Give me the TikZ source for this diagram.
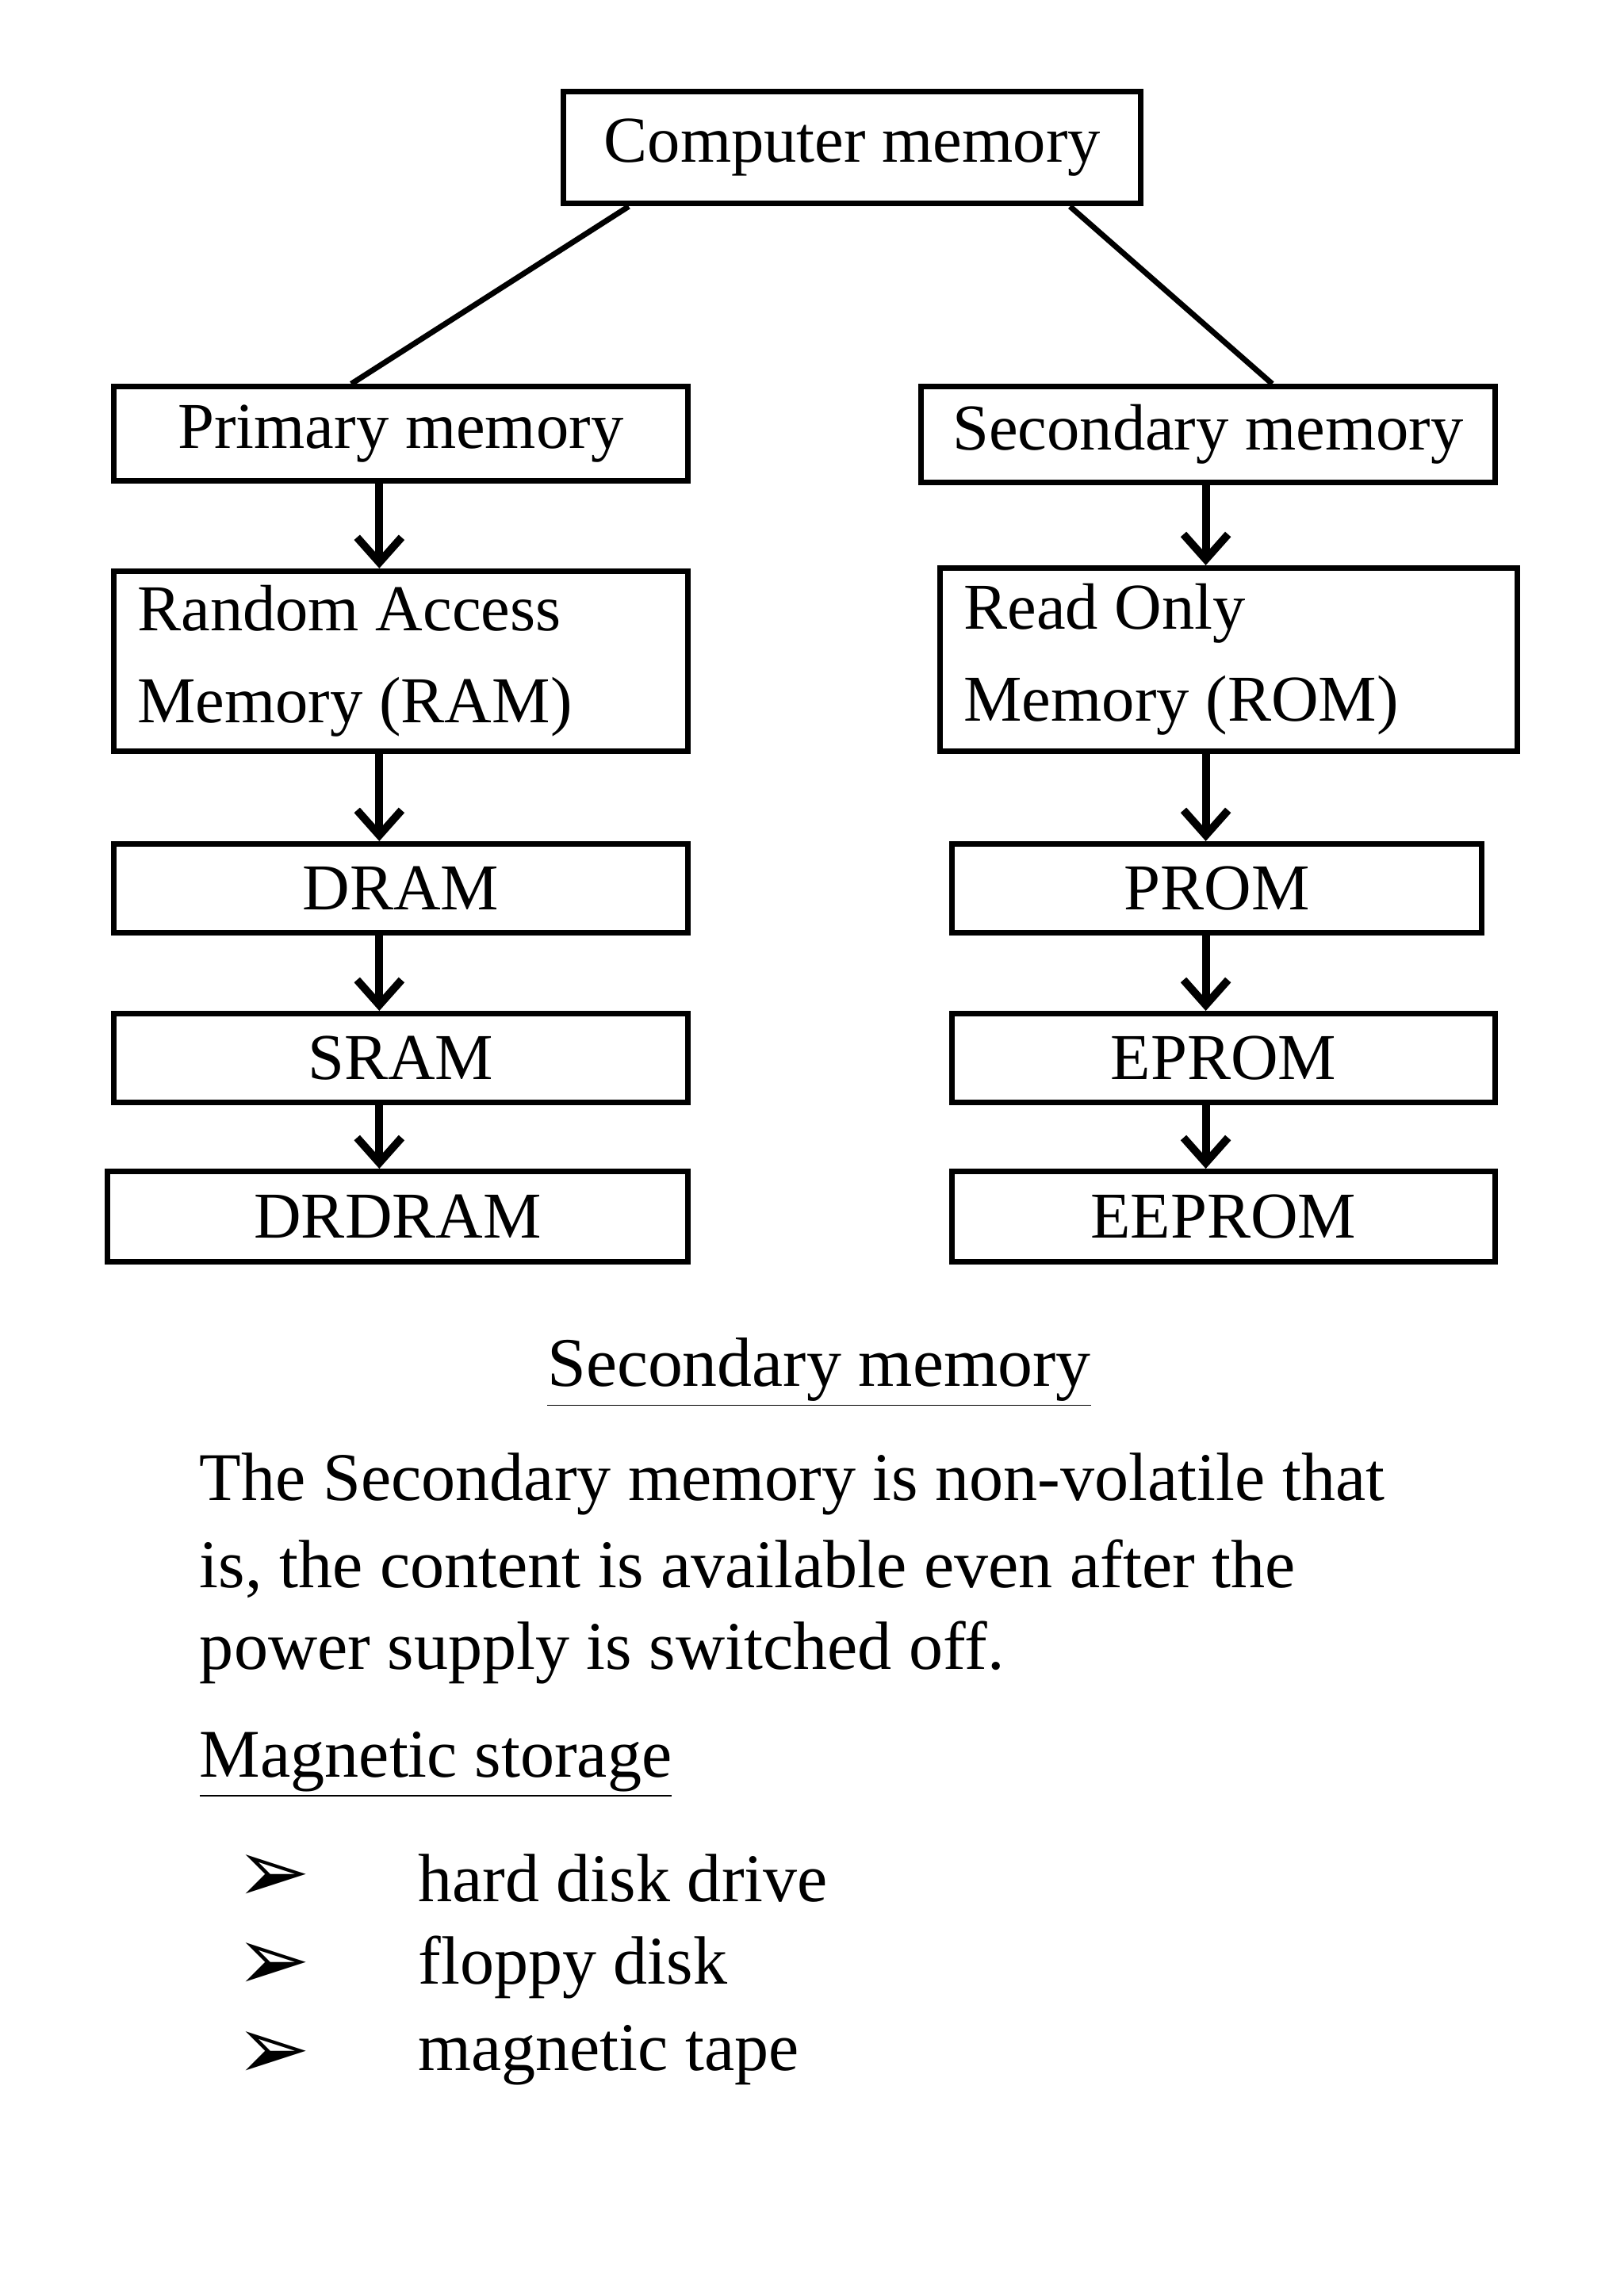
\documentclass[tikz,border=0pt]{standalone}
\usepackage{fontspec}
\setmainfont{Liberation Serif}
\newfontfamily\symfont{DejaVu Sans}
\usetikzlibrary{arrows.meta}
\begin{document}
\begin{tikzpicture}[x=0.01862cm,y=-0.01862cm,
  box/.style={draw,line width=2pt,font=\fontsize{23.5}{31}\selectfont,inner sep=0pt},
  arr/.style={line width=2.8pt,-{Straight Barb[length=9pt,width=16pt,line width=2.8pt]}},
  txt/.style={anchor=west,inner sep=0pt,font=\fontsize{24.5}{30}\selectfont}]
\useasboundingbox[fill=white] (0,0) rectangle (1100,1556);
\node[box,minimum width=7.28cm,minimum height=1.415cm] (cm) at (577.5,100) {Computer memory};
\node[box,minimum width=7.24cm,minimum height=1.19cm] (pm) at (271.5,294) {Primary memory};
\node[box,minimum width=7.24cm,minimum height=1.21cm] (sm) at (818.5,294.5) {Secondary memory};
\node[box,minimum width=7.24cm,minimum height=2.27cm,text width=6.64cm,inner xsep=0.3cm,align=flush left] (ram) at (271.5,448) {Random Access\\[2pt]Memory (RAM)};
\node[box,minimum width=7.28cm,minimum height=2.31cm,text width=6.68cm,inner xsep=0.3cm,align=flush left] (rom) at (832.5,447) {Read Only\\[2pt]Memory (ROM)};
\node[box,minimum width=7.24cm,minimum height=1.12cm] (dram) at (271.5,602) {DRAM};
\node[box,minimum width=6.68cm,minimum height=1.12cm] (prom) at (824.5,602) {PROM};
\node[box,minimum width=7.24cm,minimum height=1.12cm] (sram) at (271.5,717) {SRAM};
\node[box,minimum width=6.85cm,minimum height=1.12cm] (eprom) at (829,717) {EPROM};
\node[box,minimum width=7.32cm,minimum height=1.14cm] (drdram) at (269.5,824.5) {DRDRAM};
\node[box,minimum width=6.85cm,minimum height=1.14cm] (eeprom) at (829,824.5) {EEPROM};
\draw[line width=2pt] (cm.south -| 426,0) -- (pm.north -| 238,0);
\draw[line width=2pt] (cm.south -| 725,0) -- (sm.north -| 862,0);
\foreach \a/\b in {pm/ram,ram/dram,dram/sram,sram/drdram}
  \draw[arr] (\a.south -| 257,0) -- (\b.north -| 257,0);
\foreach \a/\b in {sm/rom,rom/prom,prom/eprom,eprom/eeprom}
  \draw[arr] (\a.south -| 817,0) -- (\b.north -| 817,0);
\node[inner sep=0pt,font=\fontsize{25}{30}\selectfont] (title) at (555,930) {\underline{Secondary memory}};
\node[txt] (p1) at (135,1006) {The Secondary memory is non-volatile that};
\node[txt] (p2) at (135,1063) {is, the content is available even after the};
\node[txt] (p3) at (135,1120) {power supply is switched off.};
\node[txt] (ms) at (135,1196) {\underline{Magnetic storage}};
\foreach \y/\t [count=\i] in {1273/hard disk drive,1333/floppy disk,1393/magnetic tape}{
  \node[inner sep=0pt,font=\symfont\fontsize{32}{34}\selectfont] (b\i) at (185,\y) {➢};
  \node[txt] (t\i) at (283,\y) {\t};
}
\end{tikzpicture}
\end{document}
